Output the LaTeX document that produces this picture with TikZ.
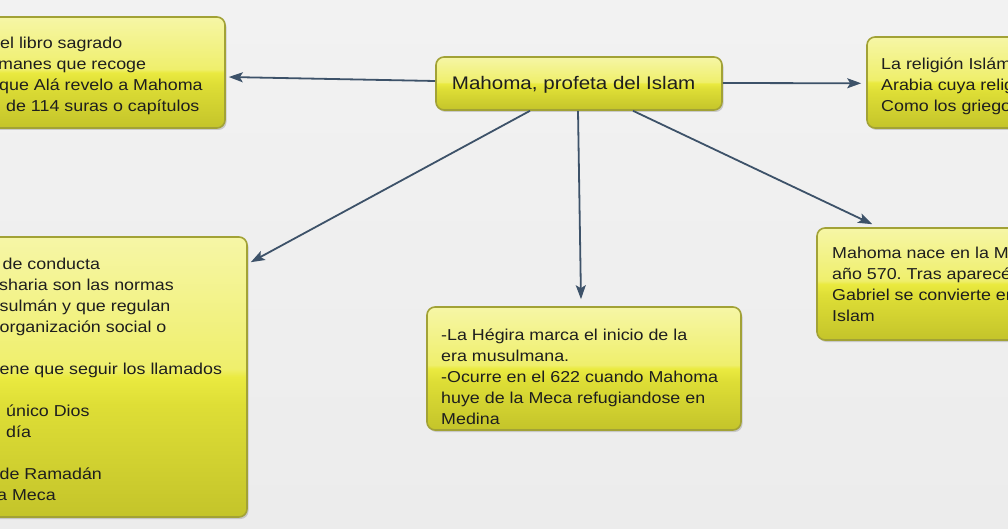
\documentclass[tikz,border=0pt]{standalone}
\usepackage{fontspec}
\setmainfont[FakeStretch=1.13]{Liberation Sans}
\usetikzlibrary{arrows.meta,calc,shadows}
\frenchspacing
\definecolor{bgtop}{HTML}{F2F2F2}
\definecolor{bgbot}{HTML}{ECECEC}
\definecolor{arr}{HTML}{3D5269}
\definecolor{bord}{HTML}{A2A236}
\definecolor{txtc}{HTML}{1E1E1E}
\definecolor{gA}{HTML}{C4C42A}
\definecolor{gB}{HTML}{DEDE36}
\definecolor{gC}{HTML}{EAEA40}
\definecolor{gD}{HTML}{EFEF6C}
\definecolor{gE}{HTML}{F6F6A6}
\pgfdeclareverticalshading{gloss}{100bp}{color(0bp)=(gA); color(25bp)=(gA); color(45bp)=(gB); color(50bp)=(gC); color(51.5bp)=(gD); color(75bp)=(gE); color(100bp)=(gE)}
\newcommand{\bodyfont}{\fontsize{15.8}{21}\selectfont}
\newcommand{\titlefont}{\fontsize{18.2}{22}\selectfont}
\begin{document}
\begin{tikzpicture}[x=1pt,y=-1pt,
  box/.style={rounded corners=8pt, draw=bord, line width=1.6pt, shading=gloss, inner sep=0pt,
    drop shadow={shadow xshift=1.5pt,shadow yshift=-2pt,opacity=.3,fill=black!55}},
  txt/.style={inner sep=0pt, anchor=base west, font=\bodyfont, text=txtc},
  ttl/.style={inner sep=0pt, anchor=base west, font=\titlefont, text=txtc},
  conn/.style={draw=arr, line width=1.8pt, -{Stealth[length=14pt,width=10pt,inset=3pt]}}]
\useasboundingbox (0,0) rectangle (1008,529);
\clip (0,0) rectangle (1008,529);
\fill[top color=bgtop,bottom color=bgbot] (0,0) rectangle (1008,529);

% boxes
\node[box, minimum width=475pt, minimum height=111pt] (B1) at (-12.5,72.5) {};
\node[box, minimum width=286pt, minimum height=53pt] (C) at (579,83.5) {};
\node[box, minimum width=333pt, minimum height=91pt] (B3) at (1033.5,82.5) {};
\node[box, minimum width=383pt, minimum height=112pt] (B4) at (1008.5,284) {};
\node[box, minimum width=447pt, minimum height=280pt] (B5) at (23.5,377) {};
\node[box, minimum width=314pt, minimum height=123pt] (B6) at (584,368.5) {};

% title
\node[ttl] (title) at (451.7,90) {Mahoma, profeta del Islam};

% top-left box text
\node[txt] (a1) at (0,48.5) {el libro sagrado};
\node[txt] (a2) at (-2,69.5) {manes que recoge};
\node[txt] (a3) at (-1,90.5) {que Alá revelo a Mahoma};
\node[txt] (a4) at (6,111.5) {de 114 suras o capítulos};

% top-right box text
\node[txt] (b1) at (881,69.5) {La religión Islám};
\node[txt] (b2) at (881,90.5) {Arabia cuya relig};
\node[txt] (b3) at (881,111.5) {Como los griego};

% right-middle box text
\node[txt] (c1) at (832,258.5) {Mahoma nace en la M};
\node[txt] (c2) at (832,279.5) {año 570. Tras aparecé};
\node[txt] (c3) at (832,300.5) {Gabriel se convierte en};
\node[txt] (c4) at (832,321.5) {Islam};

% bottom box text
\node[txt] (d1) at (441,340.5) {-La Hégira marca el inicio de la};
\node[txt] (d2) at (441,361.5) {era musulmana.};
\node[txt] (d3) at (441,382.5) {-Ocurre en el 622 cuando Mahoma};
\node[txt] (d4) at (441,403.5) {huye de la Meca refugiandose en};
\node[txt] (d5) at (441,424.5) {Medina};

% left-middle box text
\node[txt] (e1) at (2.5,269.5) {de conducta};
\node[txt] (e2) at (-1,290.5) {sharia son las normas};
\node[txt] (e3) at (-0.5,311.5) {sulmán y que regulan};
\node[txt] (e4) at (-0.5,332.5) {organización social o};
\node[txt] (e5) at (-0.5,374.5) {ene que seguir los llamados};
\node[txt] (e6) at (6,416.5) {único Dios};
\node[txt] (e7) at (6,437.5) {día};
\node[txt] (e8) at (-0.5,479.5) {de Ramadán};
\node[txt] (e9) at (-3,500.5) {a Meca};

% connectors
\draw[conn] ($(C.west)+(0,-2.5)$) -- ($(B1.east)+(3,4.5)$);
\draw[conn] ($(C.east)+(0,-0.5)$) -- ($(B3.west)+(-5,0.8)$);
\draw[conn] ($(C.south)+(-49,0)$) -- ($(B5.north east)+(3,26)$);
\draw[conn] ($(C.south)+(-1,0)$) -- ($(B6.north)+(-3,-7)$);
\draw[conn] ($(C.south)+(54,0)$) -- ($(B4.north west)+(56,-3)$);
\end{tikzpicture}
\end{document}
